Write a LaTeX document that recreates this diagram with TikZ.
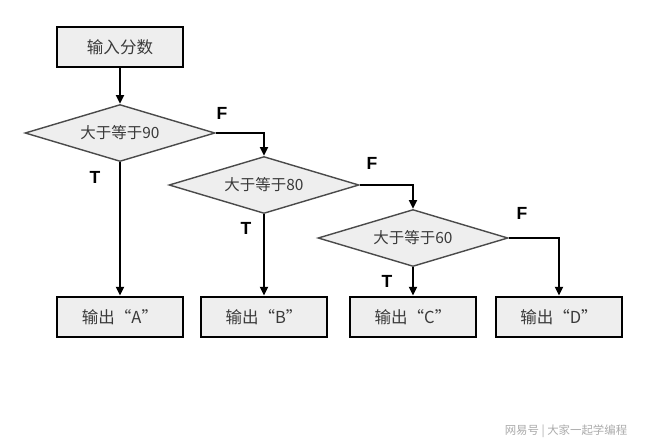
\documentclass[tikz,border=0pt]{standalone}
\usepackage{fontspec}
\setmainfont{Liberation Sans}
\newfontfamily\cjk{Noto Sans CJK SC}
\usetikzlibrary{arrows.meta,shapes.geometric,shadows}
\definecolor{boxfill}{HTML}{EEEEEE}
\definecolor{boxtext}{HTML}{3A3A3A}
\definecolor{diaedge}{HTML}{4A4A4A}
\definecolor{mark}{HTML}{AAAAAA}

\begin{document}
\begin{tikzpicture}[x=0.02cm,y=-0.02cm,
  procbox/.style={draw=black,line width=1.6pt,fill=boxfill,text=boxtext,
    minimum width=2.52cm,minimum height=0.8cm,inner sep=0pt,
    font=\cjk\fontsize{9.4}{11}\selectfont,
    drop shadow={shadow xshift=0.8pt,shadow yshift=-0.8pt,opacity=0.25}},
  testbox/.style={diamond,aspect=3.3,draw=diaedge,line width=0.8pt,fill=boxfill,text=boxtext,
    minimum width=3.8cm,minimum height=1.14cm,inner sep=0pt,
    font=\cjk\fontsize{8.8}{10}\selectfont},
  flow/.style={draw=black,line width=1.1pt,-{Triangle[length=5pt,width=4.5pt]}},
  branch/.style={font=\bfseries\fontsize{10}{12}\selectfont,text=black}]

  \useasboundingbox (0,0) rectangle (650,444);

  % boxes and tests
  \node[procbox] (input) at (120,47) {输入分数};
  \node[testbox] (t90) at (120,133) {大于等于90};
  \node[testbox] (t80) at (264,185) {大于等于80};
  \node[testbox] (t60) at (413,238) {大于等于60};
  \node[procbox] (outA) at (120,317) {输出“A”};
  \node[procbox] (outB) at (264,317) {输出“B”};
  \node[procbox] (outC) at (413,317) {输出“C”};
  \node[procbox] (outD) at (559,317) {输出“D”};

  % connectors
  \draw[flow] (input) -- (t90);
  \draw[flow] (t90.south) -- (outA);
  \draw[flow] (t90.east) -| (t80.north);
  \draw[flow] (t80.south) -- (outB);
  \draw[flow] (t80.east) -| (t60.north);
  \draw[flow] (t60.south) -- (outC);
  \draw[flow] (t60.east) -| (outD.north);

  % branch labels
  \node[branch] (f90) at (222,113) {F};
  \node[branch] (y90) at (95,177) {T};
  \node[branch] (f80) at (372,163) {F};
  \node[branch] (y80) at (246,228) {T};
  \node[branch] (f60) at (522,213) {F};
  \node[branch] (y60) at (387,281) {T};

  % watermark
  \node[text=mark,font=\cjk\fontsize{6.5}{8}\selectfont] (wm) at (566,431) {网易号 | 大家一起学编程};

\end{tikzpicture}
\end{document}
